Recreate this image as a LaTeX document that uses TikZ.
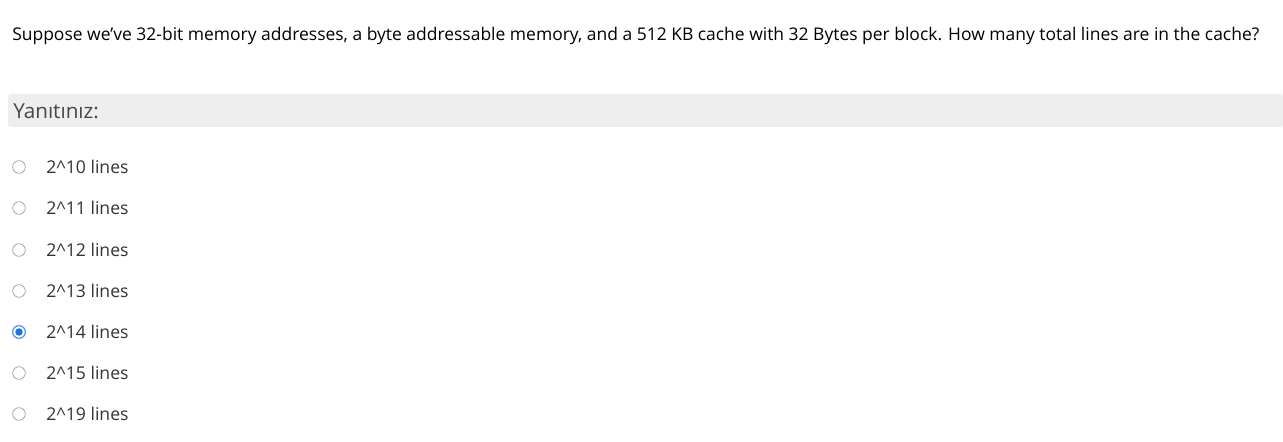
\documentclass[tikz,border=0pt]{standalone}
\usepackage{fontspec}
\setmainfont{Open Sans}
\definecolor{txt}{HTML}{333333}
\definecolor{bar}{HTML}{EEEEEE}
\definecolor{sel}{HTML}{1A73E8}
\begin{document}
\begin{tikzpicture}[x=0.75pt,y=-0.75pt,
  radio/.style={circle,draw=gray!70,line width=0.6pt,minimum size=9.5pt,inner sep=0pt},
  radiosel/.style={circle,draw=sel!70,fill=white,line width=1pt,minimum size=9.5pt,inner sep=0pt},
  opt/.style={anchor=west,inner sep=0pt,font=\fontsize{13.2}{15}\selectfont,text=txt}]
\useasboundingbox[fill=white] (0,0) rectangle (1283,442);
\node[anchor=west,inner sep=0pt,font=\fontsize{13.1}{15}\selectfont,text=black] (q) at (12,36) {Suppose we\char"27 ve 32-bit memory addresses, a byte addressable memory, and a 512 KB cache with 32 Bytes per block. How many total lines are in the cache?};
\fill[bar, rounded corners=2pt] (8,94) rectangle (1283,127);
\node[anchor=west,inner sep=0pt,font=\fontsize{15.5}{18}\selectfont,text=txt!90] (h) at (13,111) {Yanıtınız:};
\foreach \i/\t/\y in {1/10/167,2/11/208,3/12/250,4/13/291,6/15/373,7/19/414}{
  \node[radio] (r\i) at (19,\y) {};
  \node[opt] (o\i) at (46,\y) {2\textasciicircum\t{} lines};
}
\node[radiosel] (r5) at (19,332) {};
\fill[sel] (r5.center) circle (2.8pt);
\node[opt] (o5) at (46,332) {2\textasciicircum 14 lines};
\end{tikzpicture}
\end{document}
